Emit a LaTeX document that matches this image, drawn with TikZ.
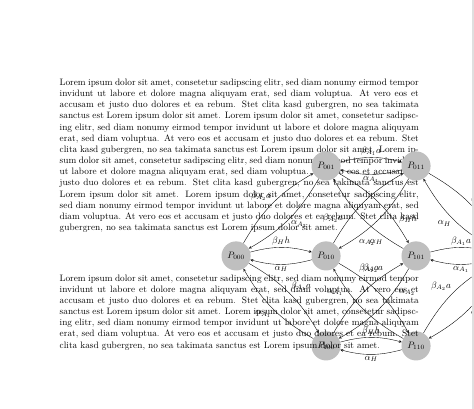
\documentclass[tikz,border=0pt]{standalone}
\usepackage{amsmath,tikz}

\newcommand{\loremtext}{Lorem ipsum dolor sit amet, consetetur sadipscing elitr, sed diam nonumy eirmod tempor invidunt ut labore et dolore magna aliquyam erat, sed diam voluptua. At vero eos et accusam et justo duo dolores et ea rebum. Stet clita kasd gubergren, no sea takimata sanctus est Lorem ipsum dolor sit amet.}

\tikzset{
  pstate/.style={circle, fill=lightgray, minimum size=1.1cm, inner sep=0pt},
  lorem/.style={text width=386pt, align=justify, anchor=north west, inner sep=0pt},
  rate/.style={auto, inner sep=2pt}
}

\begin{document}
\begin{tikzpicture}[scale=1.0, >=stealth]
\useasboundingbox (-8.92, -5.78) rectangle (8.99, 9.67);
\fill[gray!25] (8.90, -5.78) rectangle (8.99, 9.67);
\node[lorem] (text1) at (-6.67, 6.69)
    {\loremtext{} \loremtext{} \loremtext{} \loremtext};
\begin{scope}
\clip (-8.92, -5.78) rectangle (8.90, 9.67);
\node[pstate] (P000) at (0, 0) {$P_{000}$};
\node[pstate] (P010) at (3.4, 0) {$P_{010}$};
\node[pstate] (P001) at (3.4, 3.4) {$P_{001}$};
\node[pstate] (P011) at (6.8, 3.4) {$P_{011}$};
\node[pstate] (P101) at (6.8, 0) {$P_{101}$};
\node[pstate] (P100) at (3.4, -3.4) {$P_{100}$};
\node[pstate] (P110) at (6.8, -3.4) {$P_{110}$};
\node[pstate] (P111) at (10.2, 0) {$P_{111}$};
\foreach \src/\dst/\fwd/\bwd/\pf/\pb in {
    000/010/{\beta_H h}/{\alpha_H}/.5/.5,
    000/001/{\beta_{A_2}a}/{\alpha_{A_2}}/.5/.5,
    000/100/{\beta_{A_1}a}/{\alpha_{A_1}}/.5/.5,
    001/011/{\beta_{A_1}a}/{\alpha_{A_1}}/.5/.5,
    001/101/{\beta_H h}/{\alpha_H}/.8/.2,
    010/011/{\beta_{A_2}a}/{\alpha_{A_2}}/.2/.8,
    010/110/{\beta_{A_1}a}/{\alpha_{A_1}}/.2/.8,
    100/101/{\beta_{A_2}a}/{\alpha_{A_2}}/.8/.2,
    100/110/{\beta_H h}/{\alpha_H}/.5/.5,
    011/111/{\beta_H h}/{\alpha_H}/.5/.5,
    101/111/{\beta_{A_1}a}/{\alpha_{A_1}}/.5/.5,
    110/111/{\beta_{A_2}a}/{\alpha_{A_2}}/.5/.5}
    {
    \draw[->, bend left=15] (P\src) to node[rate, pos=\pf] {$\fwd$} (P\dst);
    \draw[->, bend left=15] (P\dst) to node[rate, pos=\pb] {$\bwd$} (P\src);
    }
\end{scope}
\node[lorem] (text2) at (-6.67, -0.70) {\loremtext{} \loremtext};
\end{tikzpicture}
\end{document}
